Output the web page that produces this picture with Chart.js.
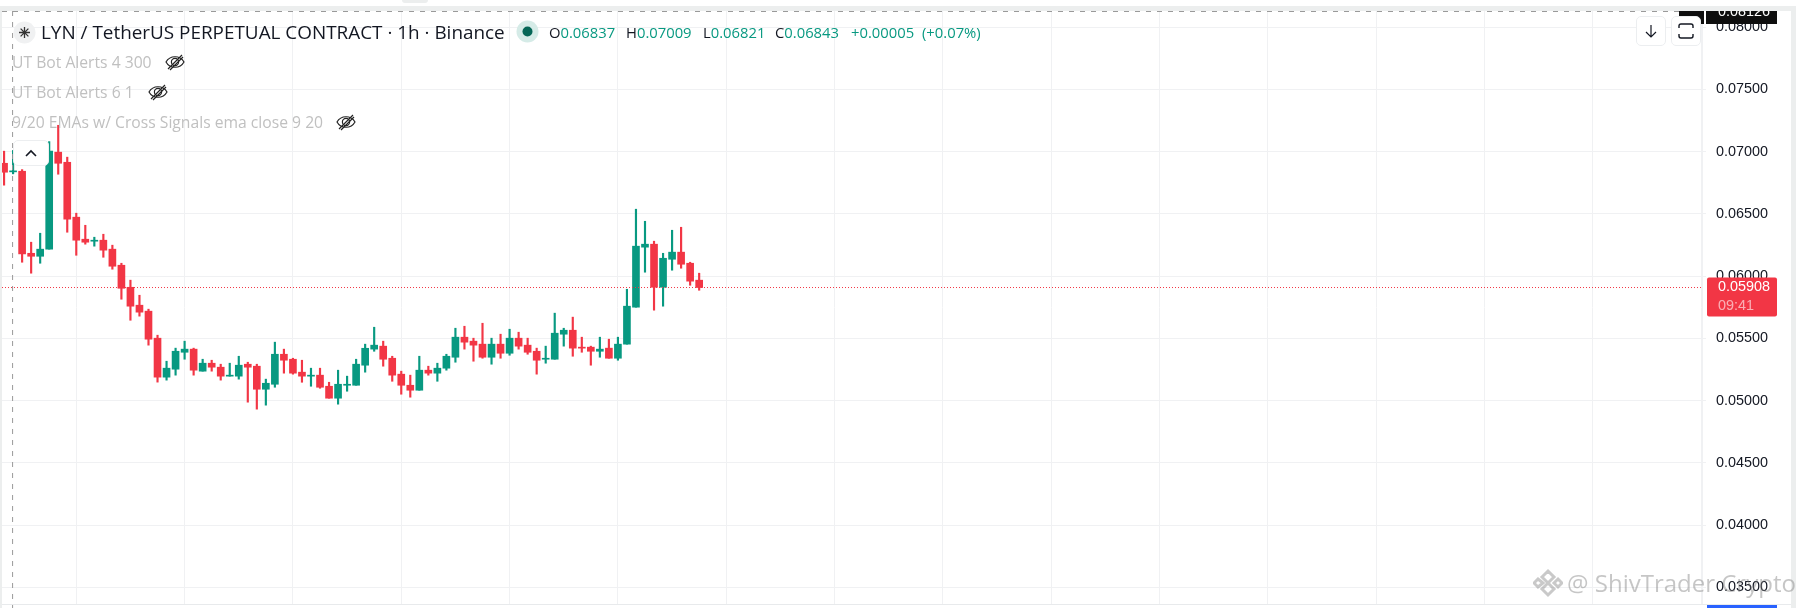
<!DOCTYPE html>
<html>
<head>
<meta charset="utf-8">
<title>LYN / TetherUS</title>
<script src="https://cdn.jsdelivr.net/npm/chart.js@4"></script>
<style>
  html, body { margin: 0; padding: 0; background: #fff; }
  #wrap { position: relative; width: 1802px; height: 608px; overflow: hidden; font-family: "Open Sans", sans-serif; }
  #mycanvas { position: absolute; left: 0; top: 0; }
  .band { position: absolute; background: #eceeee; }
  .txt { position: absolute; white-space: nowrap; line-height: 20px; }
  .title { left: 41px; top: 22px; font-size: 18.9px; color: #131722; }
  .study { left: 12px; font-size: 15.7px; color: #c0c0c0; }
  .o { top: 22px; font-size: 14.8px; color: #089981; }
  .o b { font-weight: normal; color: #131722; }
  .btn { position: absolute; background: #fff; border: 1px solid #eceef0; border-radius: 5px; box-sizing: border-box; }
  svg { position: absolute; }
  .mark { left: 1567px; top: 568px; font-size: 24px; color: rgba(120,120,120,.42); line-height: 30px; }
</style>
</head>
<body>
<div id="wrap">
  <canvas id="mycanvas" width="1802" height="608"></canvas>
  <div class="band" style="left:0;top:6px;width:1796px;height:5px"></div>
  <div class="band" style="left:0;top:6px;width:2px;height:602px"></div>
  <div class="band" style="left:1791px;top:6px;width:5px;height:602px"></div>
  <div class="band" style="left:402px;top:0;width:26px;height:3px;border-radius:0 0 8px 8px"></div>

  <svg style="left:13px;top:21px" width="23" height="23" viewBox="0 0 23 23">
    <circle cx="11.5" cy="11.5" r="11" fill="#f0f1f2"/>
    <g stroke="#333" stroke-width="1.3">
      <path d="M6 11.5H17M11.5 6V17M7.6 7.6L15.4 15.4M15.4 7.6L7.6 15.4"/>
    </g>
  </svg>
  <div class="txt title">LYN / TetherUS PERPETUAL CONTRACT · 1h · Binance</div>
  <svg style="left:516px;top:20px" width="23" height="23" viewBox="0 0 23 23">
    <circle cx="11.5" cy="11.5" r="11" fill="#d5ebe7"/>
    <circle cx="11.5" cy="11.5" r="5" fill="#056656"/>
  </svg>
  <div class="txt o" style="left:549px"><b>O</b>0.06837</div>
  <div class="txt o" style="left:626px"><b>H</b>0.07009</div>
  <div class="txt o" style="left:703px"><b>L</b>0.06821</div>
  <div class="txt o" style="left:775px"><b>C</b>0.06843</div>
  <div class="txt o" style="left:851px">+0.00005</div>
  <div class="txt o" style="left:922px">(+0.07%)</div>

  <div class="txt study" style="top:52px">UT Bot Alerts 4 300</div>
  <div class="txt study" style="top:82px">UT Bot Alerts 6 1</div>
  <div class="txt study" style="top:112px">9/20 EMAs w/ Cross Signals ema close 9 20</div>
  <svg style="left:164px;top:52px" width="22" height="20" viewBox="0 0 22 20"><use href="#eye"/></svg>
  <svg style="left:147px;top:82px" width="22" height="20" viewBox="0 0 22 20"><use href="#eye"/></svg>
  <svg style="left:335px;top:112px" width="22" height="20" viewBox="0 0 22 20">
    <defs><g id="eye" fill="none" stroke="#222" stroke-width="1.2">
      <path d="M2 10C6 3 16 3 20 10C16 17 6 17 2 10Z"/>
      <circle cx="11" cy="10" r="3.6"/>
      <path d="M4 17L18 3M6 18L19 5"/>
    </g></defs>
    <use href="#eye"/>
  </svg>

  <div class="btn" style="left:13px;top:140px;width:36px;height:26px">
    <svg style="left:9px;top:6px" width="16" height="12" viewBox="0 0 16 12"><path d="M3 9L8 4L13 9" fill="none" stroke="#131722" stroke-width="1.6"/></svg>
  </div>
  <div class="btn" style="left:1636px;top:16px;width:30px;height:30px">
    <svg style="left:6px;top:6px" width="16" height="16" viewBox="0 0 16 16"><path d="M8 2V14M3 9L8 14L13 9" fill="none" stroke="#131722" stroke-width="1.2"/></svg>
  </div>
  <div class="btn" style="left:1671px;top:16px;width:30px;height:30px">
    <svg style="left:6px;top:6px" width="16" height="16" viewBox="0 0 16 16"><path d="M1 5V3Q1 1 3 1H13Q15 1 15 3V5M1 11V13Q1 15 3 15H13Q15 15 15 13V11" fill="none" stroke="#131722" stroke-width="1.4"/></svg>
  </div>

  <svg style="left:1533px;top:568px" width="30" height="30" viewBox="0 0 30 30">
    <g fill="none" stroke="rgba(120,120,120,.4)" stroke-width="3">
      <path d="M15 3L21 9L15 15L9 9ZM5 11L10 15L5 19L1 15ZM25 11L29 15L25 19L21 15ZM15 15L21 21L15 27L9 21Z"/>
    </g>
  </svg>
  <div class="txt mark">@ ShivTrader Crypto</div>
</div>

<script>
var opens = [0.06906,0.06837,0.06842,0.06183,0.06159,0.06216,0.06995,0.06914,0.06473,0.06296,0.06280,0.06288,0.06216,0.06087,0.05910,0.05766,0.05718,0.05501,0.05188,0.05252,0.05388,0.05413,0.05236,0.05300,0.05268,0.05196,0.05196,0.05292,0.05276,0.05091,0.05131,0.05372,0.05332,0.05228,0.05196,0.05204,0.05115,0.05019,0.05123,0.05123,0.05284,0.05413,0.05437,0.05340,0.05212,0.05123,0.05083,0.05244,0.05220,0.05260,0.05348,0.05509,0.05477,0.05453,0.05348,0.05453,0.05380,0.05501,0.05445,0.05396,0.05332,0.05332,0.05533,0.05565,0.05429,0.05429,0.05396,0.05421,0.05340,0.05453,0.05750,0.06232,0.06256,0.05910,0.06135,0.06192,0.06103,0.05967];
var highs = [0.07003,0.07009,0.06855,0.06272,0.06344,0.07080,0.07211,0.06955,0.06505,0.06408,0.06312,0.06336,0.06248,0.06103,0.05967,0.05846,0.05734,0.05525,0.05316,0.05421,0.05477,0.05421,0.05332,0.05324,0.05292,0.05300,0.05356,0.05308,0.05292,0.05172,0.05469,0.05413,0.05340,0.05324,0.05260,0.05260,0.05147,0.05244,0.05196,0.05332,0.05453,0.05589,0.05477,0.05356,0.05236,0.05204,0.05356,0.05276,0.05300,0.05372,0.05581,0.05597,0.05501,0.05621,0.05501,0.05533,0.05573,0.05549,0.05501,0.05421,0.05437,0.05702,0.05581,0.05670,0.05509,0.05437,0.05509,0.05493,0.05509,0.05894,0.06537,0.06440,0.06280,0.06183,0.06368,0.06392,0.06111,0.06023];
var lows = [0.06730,0.06821,0.06111,0.06023,0.06103,0.06216,0.06818,0.06352,0.06167,0.06256,0.06240,0.06151,0.06055,0.05814,0.05645,0.05678,0.05445,0.05148,0.05164,0.05204,0.05332,0.05204,0.05236,0.05236,0.05164,0.05196,0.05172,0.04987,0.04931,0.04963,0.05107,0.05220,0.05212,0.05147,0.05115,0.05099,0.05019,0.04971,0.05075,0.05123,0.05228,0.05396,0.05276,0.05155,0.05051,0.05027,0.05083,0.05204,0.05155,0.05244,0.05308,0.05413,0.05316,0.05340,0.05292,0.05340,0.05364,0.05413,0.05372,0.05212,0.05300,0.05332,0.05437,0.05356,0.05388,0.05284,0.05348,0.05340,0.05324,0.05453,0.05750,0.06031,0.05726,0.05758,0.06047,0.06063,0.05926,0.05886];
var closes = [0.06834,0.06843,0.06178,0.06159,0.06216,0.07003,0.06906,0.06457,0.06288,0.06272,0.06288,0.06208,0.06079,0.05902,0.05758,0.05710,0.05493,0.05188,0.05260,0.05396,0.05413,0.05244,0.05300,0.05268,0.05196,0.05204,0.05284,0.05268,0.05091,0.05139,0.05372,0.05324,0.05220,0.05196,0.05204,0.05107,0.05019,0.05131,0.05131,0.05292,0.05420,0.05445,0.05332,0.05204,0.05123,0.05083,0.05244,0.05220,0.05260,0.05356,0.05509,0.05469,0.05445,0.05348,0.05453,0.05380,0.05501,0.05437,0.05388,0.05324,0.05340,0.05541,0.05565,0.05421,0.05421,0.05396,0.05413,0.05340,0.05453,0.05758,0.06240,0.06256,0.05910,0.06143,0.06192,0.06095,0.05959,0.05908];
var priceTicks = [0.035,0.04,0.045,0.05,0.055,0.06,0.065,0.07,0.075,0.08];
var lastPrice = 0.05908;
var lastLabel = "0.05908";
var countdown = "09:41";
var crosshairPrice = "0.08126";

var UP = "#089981", DOWN = "#f23645";
var GRID = "#f0f1f3";

// candle slot numbers, grid lines fall on multiples of 12
var slots = [];
var wicks = [], bodies = [], colors = [];
for (var i = 0; i < opens.length; i++) {
  slots.push(i + 4);
  wicks.push({x: slots[i], y: [lows[i], highs[i]]});
  bodies.push({x: slots[i], y: [opens[i], closes[i]]});
  colors.push(closes[i] >= opens[i] ? UP : DOWN);
}

var overlay = {
  id: "overlay",
  afterDraw: function(chart) {
    var ctx = chart.ctx, y = chart.scales.y, x = chart.scales.x;
    var bottom = chart.chartArea.bottom, top = chart.chartArea.top;
    ctx.save();
    // bottom rule
    ctx.fillStyle = "#e8eaec";
    ctx.fillRect(2, bottom, 1789, 1);
    // crosshair
    ctx.strokeStyle = "#9a9a9a";
    ctx.lineWidth = 1;
    ctx.setLineDash([5, 6]);
    ctx.beginPath();
    ctx.moveTo(x.getPixelForValue(slots[1]) - 0.5, top);
    ctx.lineTo(x.getPixelForValue(slots[1]) - 0.5, 608);
    ctx.moveTo(2, top + 0.5);
    ctx.lineTo(1679, top + 0.5);
    ctx.stroke();
    ctx.setLineDash([]);
    // last price tag
    var py = y.getPixelForValue(lastPrice);
    ctx.fillStyle = DOWN;
    ctx.beginPath();
    ctx.roundRect(1707, py - 10, 70, 39, 2);
    ctx.fill();
    ctx.textBaseline = "middle";
    ctx.textAlign = "left";
    ctx.font = "14.4px 'Liberation Sans'";
    ctx.fillStyle = "#fff";
    ctx.fillText(lastLabel, 1718, py - 0.5);
    ctx.fillStyle = "rgba(255,255,255,.6)";
    ctx.fillText(countdown, 1718, py + 18.5);
    // price tag for the lower crosshair, bottom edge
    ctx.fillStyle = "#2962ff";
    ctx.fillRect(1707, bottom + 1, 70, 3);
    // crosshair tags cut by the pane top
    ctx.beginPath();
    ctx.rect(1670, top, 120, 30);
    ctx.clip();
    ctx.fillStyle = "#0e0e0e";
    ctx.fillRect(1679, top, 25, 13);
    ctx.fillRect(1706, top, 71, 13);
    ctx.fillStyle = "#fff";
    ctx.fillText(crosshairPrice, 1718, top + 1);
    ctx.restore();
  }
};

var ctx = document.getElementById("mycanvas");
var LineGraph = new Chart(ctx, {
  type: "bar",
  data: {
    datasets: [
      { label: "wick", data: wicks, backgroundColor: colors, barThickness: 1.5, grouped: false, order: 2 },
      { label: "body", data: bodies, backgroundColor: colors, barThickness: 7, grouped: false, minBarLength: 1, order: 1 },
      { type: "line", label: "last", data: [{x: 3.772, y: lastPrice}, {x: 192.09, y: lastPrice}],
        borderColor: DOWN, borderWidth: 1, borderDash: [1, 2], pointRadius: 0, order: 0 }
    ]
  },
  options: {
    responsive: false,
    animation: false,
    layout: { padding: { left: 2, top: 11, right: 10, bottom: 4 } },
    plugins: { legend: { display: false }, tooltip: { enabled: false } },
    scales: {
      x: {
        type: "linear",
        offset: false,
        min: 3.772,
        max: 192.09,
        afterBuildTicks: function(scale) {
          scale.ticks = scale.ticks.filter(function(t) { return t.value > scale.min && t.value <= scale.max; });
        },
        afterFit: function(scale) { scale.height = 0; scale.paddingLeft = 0; scale.paddingRight = 0; },
        ticks: { display: false, stepSize: 12, includeBounds: false },
        grid: { color: GRID, lineWidth: 1, drawTicks: false, offset: false },
        border: { display: false }
      },
      y: {
        position: "right",
        min: 0.03366,
        max: 0.08129,
        afterBuildTicks: function(scale) {
          scale.ticks = priceTicks.map(function(v) { return {value: v}; });
        },
        afterFit: function(scale) { scale.width = 90; scale.paddingTop = 0; scale.paddingBottom = 0; },
        ticks: {
          color: "#131722",
          padding: 10,
          font: { family: "Liberation Sans", size: 14.4 },
          callback: function(v) { return v.toFixed(5); }
        },
        grid: { color: GRID, lineWidth: 1, tickLength: 4, tickColor: GRID },
        border: { display: true, color: GRID }
      }
    }
  },
  plugins: [overlay]
});
</script>
</body>
</html>
